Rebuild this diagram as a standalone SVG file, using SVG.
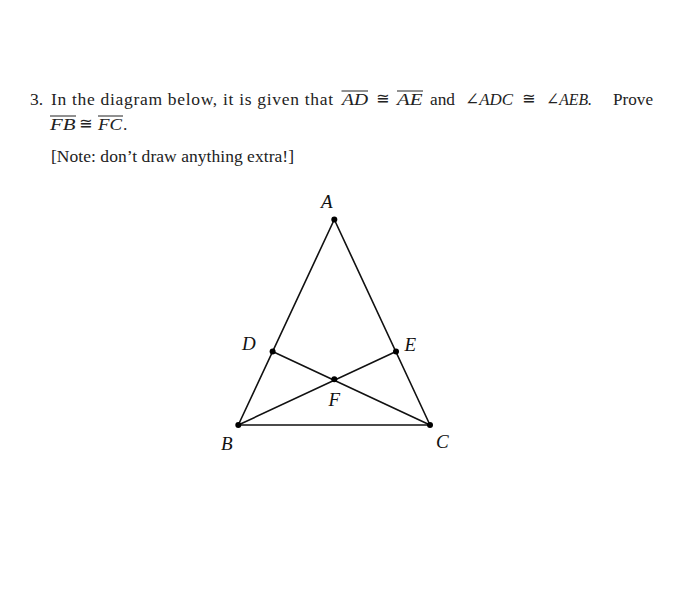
<svg xmlns="http://www.w3.org/2000/svg" width="700" height="591" viewBox="0 0 700 591">
<style>
.t{font-family:"Liberation Serif","DejaVu Serif",serif;font-size:17.5px;fill:#222}
.i{font-style:italic}
.s{font-family:"DejaVu Sans","Liberation Serif",sans-serif;font-size:16px;fill:#222}
.ol{stroke:#222;stroke-width:1}
.ln{stroke:#111;stroke-width:1.6;fill:none;stroke-linecap:round}
.pt{fill:#000}
.lb{font-family:"Liberation Serif","DejaVu Serif",serif;font-size:19px;font-style:italic;fill:#111}
</style>
<rect width="700" height="591" fill="#fff"/>
<g id="problem-text">
<text class="t" x="30" y="105">3.</text>
<text class="t" x="51" y="105" textLength="282" lengthAdjust="spacing">In the diagram below, it is given that</text>
<text class="t i" x="342" y="105" textLength="26" lengthAdjust="spacingAndGlyphs">AD</text>
<line class="ol" x1="341.5" y1="91" x2="368" y2="91"/>
<text class="s" x="376" y="104">≅</text>
<text class="t i" x="397" y="105" textLength="25.5" lengthAdjust="spacingAndGlyphs">AE</text>
<line class="ol" x1="397" y1="91" x2="423" y2="91"/>
<text class="t" x="430" y="105" textLength="25" lengthAdjust="spacingAndGlyphs">and</text>
<text class="t i" x="465" y="105" textLength="48" lengthAdjust="spacingAndGlyphs">∠ADC</text>
<text class="s" x="522" y="104">≅</text>
<text class="t i" x="546" y="105" textLength="46" lengthAdjust="spacingAndGlyphs">∠AEB.</text>
<text class="t" x="613" y="105" textLength="40" lengthAdjust="spacingAndGlyphs">Prove</text>
<text class="t i" x="50" y="130" textLength="25.5" lengthAdjust="spacingAndGlyphs">FB</text>
<line class="ol" x1="50" y1="116" x2="76" y2="116"/>
<text class="s" x="79" y="129">≅</text>
<text class="t i" x="98" y="130" textLength="24" lengthAdjust="spacingAndGlyphs">FC</text>
<line class="ol" x1="98" y1="116" x2="123" y2="116"/>
<text class="t" x="123" y="130">.</text>
<text class="t" x="51" y="162" textLength="243" lengthAdjust="spacing">[Note: don’t draw anything extra!]</text>
</g>
<g id="connectors">
<line class="ln" x1="334.3" y1="219.5" x2="238.3" y2="425"/>
<line class="ln" x1="334.3" y1="219.5" x2="430" y2="425"/>
<line class="ln" x1="238.3" y1="425" x2="430" y2="425"/>
<line class="ln" x1="272.6" y1="351.6" x2="430" y2="425"/>
<line class="ln" x1="396" y1="351.6" x2="238.3" y2="425"/>
</g>
<g id="node-A"><circle class="pt" cx="334.3" cy="219.5" r="3"/><text class="lb" x="321" y="208">A</text></g>
<g id="node-D"><circle class="pt" cx="272.6" cy="351.6" r="3"/><text class="lb" x="242" y="350">D</text></g>
<g id="node-E"><circle class="pt" cx="396" cy="351.6" r="3"/><text class="lb" x="404.5" y="351">E</text></g>
<g id="node-F"><circle class="pt" cx="334.3" cy="379.3" r="3"/><text class="lb" x="328.5" y="405.5">F</text></g>
<g id="node-B"><circle class="pt" cx="238.3" cy="425" r="3"/><text class="lb" x="221" y="449.5">B</text></g>
<g id="node-C"><circle class="pt" cx="430" cy="425" r="3"/><text class="lb" x="436" y="448">C</text></g>
</svg>
